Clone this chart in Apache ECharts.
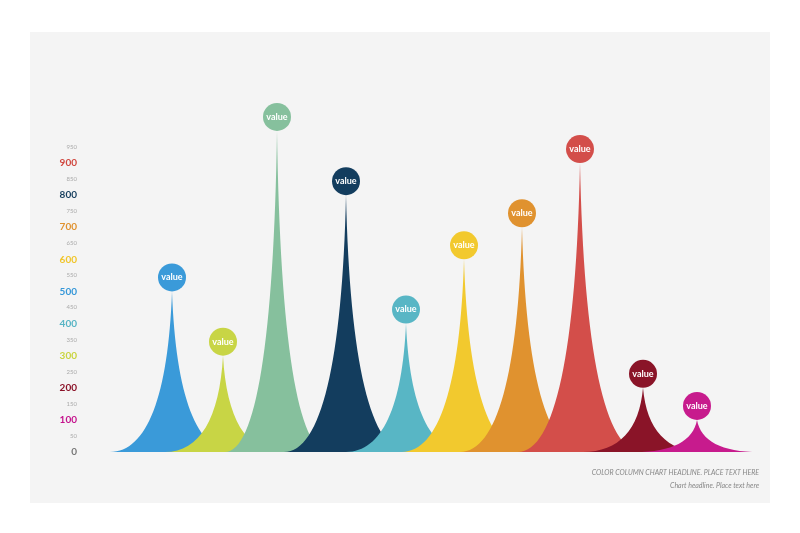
<!DOCTYPE html>
<html><head><meta charset="utf-8">
<script src="https://cdn.jsdelivr.net/npm/echarts@6/dist/echarts.min.js"></script>
<style>html,body{margin:0;padding:0;background:#fff}#c{width:800px;height:533px}</style>
</head><body><div id="c"></div>
<script>
var peakX = [172, 223, 277, 346, 406, 464, 522, 580, 643, 697];
var values = [500, 300, 1000, 800, 400, 600, 700, 900, 200, 100];
var halfWidths = [62, 58, 52, 62, 60, 62, 62, 62, 60, 62];
var colors = ['#3a9ad9','#c8d545','#86c09d','#133d5e','#58b6c5','#f2c92e','#e0922f','#d34e4a','#8a1428','#c71b8d'];
var tickColors = {0:'#777',100:'#c4128c',200:'#8b1228',300:'#c9d43f',400:'#56b4c4',500:'#3597d8',600:'#f0c52a',700:'#e0922f',800:'#153e5e',900:'#d0473f'};
var chart = echarts.init(document.getElementById('c'));
var data = peakX.map(function(x,i){return [x, values[i], halfWidths[i], i];});
chart.setOption({
  backgroundColor:'#fff',
  graphic:[
    {type:'rect',shape:{x:30,y:32,width:740,height:471},style:{fill:'#f4f4f4'},z:-10},
    {type:'text',right:41,top:469,style:{text:'COLOR COLUMN CHART HEADLINE. PLACE TEXT HERE',fill:'#888',font:'italic 7px Lato',textAlign:'right'}},
    {type:'text',right:41,top:482,style:{text:'Chart headline. Place text here',fill:'#888',font:'italic 7px Lato',textAlign:'right'}}
  ],
  grid:{left:80,right:40,top:147,bottom:81},
  xAxis:{type:'value',min:80,max:760,show:false},
  yAxis:{type:'value',min:0,max:950,interval:50,
    axisLine:{show:false},axisTick:{show:false},splitLine:{show:false},
    axisLabel:{margin:3,formatter:function(v){
      if(v%100===0) return '{b'+v+'|'+v+'}'; return '{s|'+v+'}';},
      rich:(function(){var r={s:{fontSize:6,color:'#aaa',fontFamily:'Lato'}};
        for(var k in tickColors){r['b'+k]={fontSize:10,fontWeight:'bold',color:tickColors[k],fontFamily:'Lato'};}
        return r;})()}
  },
  series:[{type:'custom',data:data,clip:false,
    renderItem:function(params,api){
      var x=api.value(0),v=api.value(1),w=api.value(2),i=api.value(3);
      var top=api.coord([x,v]),L=api.coord([x-w,0]),R=api.coord([x+w,0]),B=api.coord([x,0]);
      var h=B[1]-top[1],dx=B[0]-L[0];
      var p='M'+L[0]+','+L[1]+
        ' C'+(B[0]-dx*0.4)+','+B[1]+' '+(B[0]-dx*0.06)+','+(B[1]-h*0.35)+' '+top[0]+','+top[1]+
        ' C'+(B[0]+dx*0.06)+','+(B[1]-h*0.35)+' '+(B[0]+dx*0.4)+','+B[1]+' '+R[0]+','+R[1]+' Z';
      return {type:'group',children:[
        {type:'path',shape:{pathData:p},style:{fill:colors[i]}},
        {type:'circle',shape:{cx:top[0],cy:top[1]-14,r:14},style:{fill:colors[i]},z2:5},
        {type:'text',style:{x:top[0],y:top[1]-14,text:'value',fill:'#fff',font:'bold 9px Lato',align:'center',verticalAlign:'middle'},z2:6}
      ]};
    }}]
});
</script></body></html>
